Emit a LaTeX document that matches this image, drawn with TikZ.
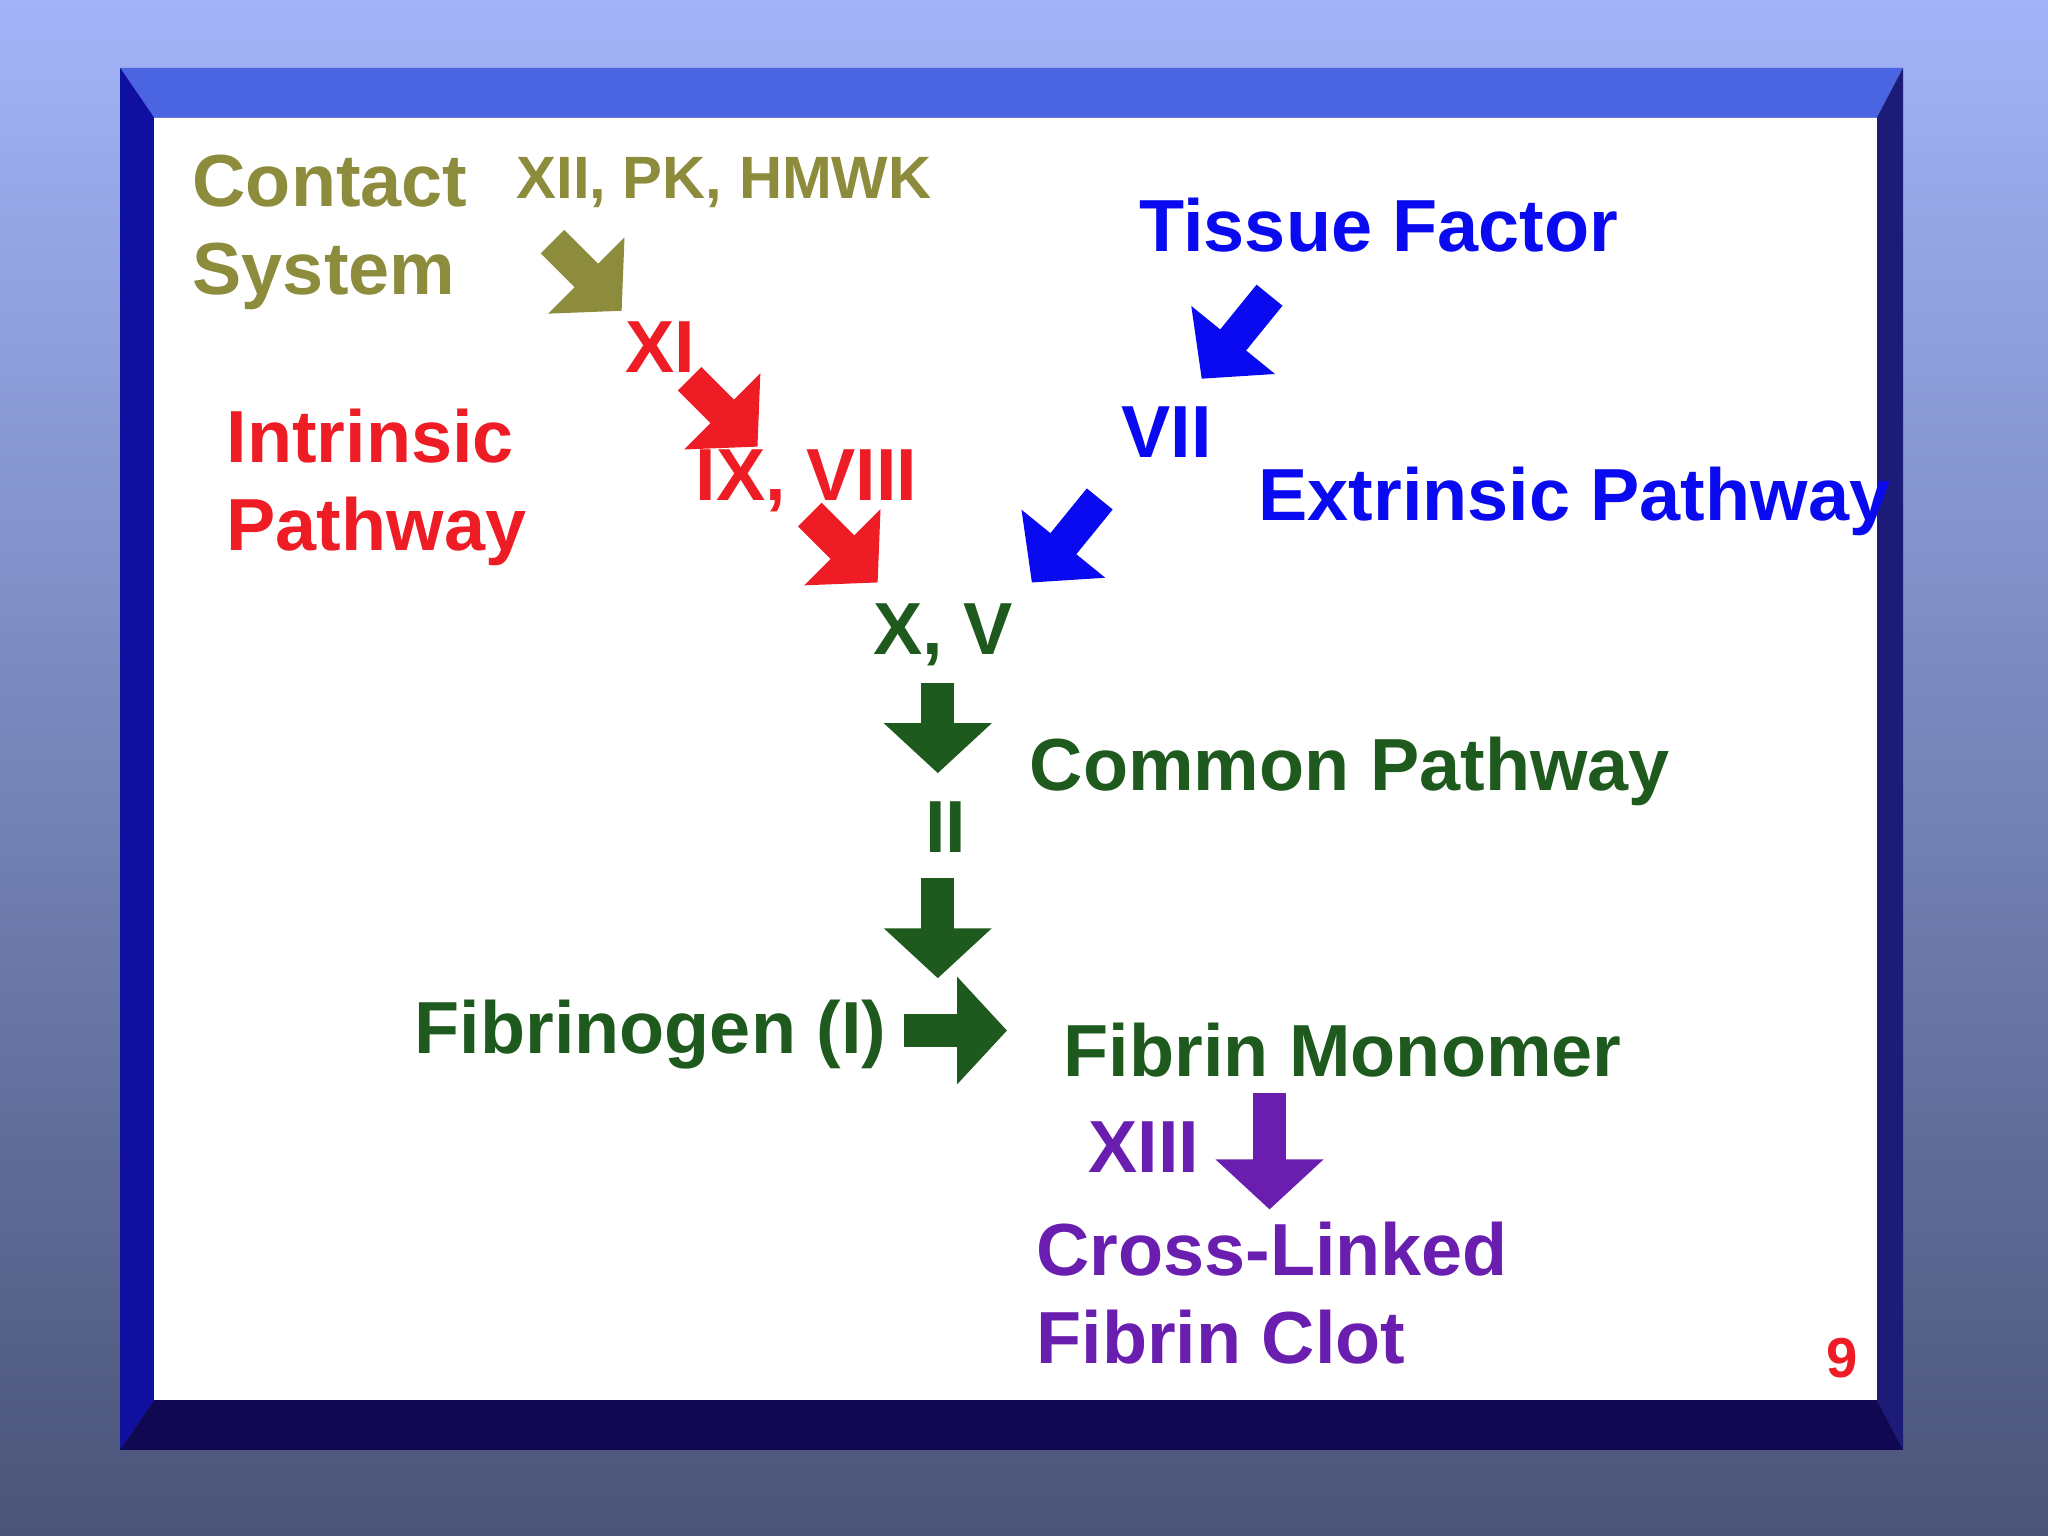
\documentclass[tikz,border=0pt]{standalone}
\usepackage{fontspec}
\setmainfont{Liberation Sans}
\usetikzlibrary{arrows.meta}
\definecolor{olv}{HTML}{8C8C3C}
\definecolor{rd}{HTML}{EE1C24}
\definecolor{bl}{HTML}{0A0AF0}
\definecolor{gr}{HTML}{1E5A1E}
\definecolor{pu}{HTML}{6A1EB0}
\begin{document}
\begin{tikzpicture}[x=0.01306cm,y=-0.01306cm,
  t/.style={font=\bfseries\fontsize{21}{25}\selectfont,anchor=west,align=left,inner sep=0},
  s/.style={font=\bfseries\fontsize{17}{20}\selectfont,anchor=west,inner sep=0},
  ar/.style={line width=9.5pt,-{Triangle[length=0.5cm,width=1.05cm]}}]
\useasboundingbox (0,0) rectangle (1568,1176);
\shade[top color={rgb,255:red,162;green,180;blue,248},bottom color={rgb,255:red,74;green,84;blue,120}] (0,0) rectangle (1568,1176);
\fill[color={rgb,255:red,74;green,100;blue,226}] (92,52)--(1457,52)--(1437,90)--(118,90)--cycle;
\fill[color={rgb,255:red,16;green,16;blue,160}] (92,52)--(118,90)--(118,1072)--(92,1110)--cycle;
\fill[color={rgb,255:red,28;green,28;blue,120}] (1457,52)--(1437,90)--(1437,1072)--(1457,1110)--cycle;
\fill[color={rgb,255:red,16;green,8;blue,80}] (92,1110)--(118,1072)--(1437,1072)--(1457,1110)--cycle;
\fill[white] (118,90) rectangle (1437,1072);
\node[t,olv] (cs) at (147,178) {Contact\\System};
\node[s,olv] (xii) at (395,140) {XII, PK, HMWK};
\node[t,bl] (tf) at (872,172) {Tissue Factor};
\node[t,rd] (xi) at (478,266) {XI};
\node[t,rd] (ip) at (173,373) {Intrinsic\\Pathway};
\node[t,rd] (ix) at (532,368) {IX, VIII};
\node[t,bl] (vii) at (858,331) {VII};
\node[t,bl] (ep) at (963,384) {Extrinsic Pathway};
\node[t,gr] (xv) at (668,486) {X, V};
\node[t,gr] (cp) at (788,591) {Common Pathway};
\node[t,gr] (ii) at (708,633) {II};
\node[t,gr] (fg) at (317,792) {Fibrinogen (I)};
\node[t,gr] (fm) at (814,804) {Fibrin Monomer};
\node[t,pu] (xiii) at (833,878) {XIII};
\node[t,pu] (cl) at (793,990) {Cross-Linked\\Fibrin Clot};
\node[font=\bfseries\fontsize{16}{18}\selectfont,rd,inner sep=0] (n9) at (1410,1040) {9};
\coordinate (a1) at (423,185); \coordinate (a1e) at (476,238);
\coordinate (a2) at (528,290); \coordinate (a2e) at (580,342);
\coordinate (a3) at (620,394); \coordinate (a3e) at (672,446);
\coordinate (b1) at (972,226); \coordinate (b1e) at (920,290);
\coordinate (b2) at (842,382); \coordinate (b2e) at (790,446);
\coordinate (c1) at (718,523); \coordinate (c1e) at (718,592);
\coordinate (c2) at (718,672); \coordinate (c2e) at (718,749);
\coordinate (c3) at (692,789); \coordinate (c3e) at (771,789);
\coordinate (d1) at (972,837); \coordinate (d1e) at (972,926);
\draw[ar,olv] (a1)--(a1e);
\draw[ar,rd] (a2)--(a2e);
\draw[ar,rd] (a3)--(a3e);
\draw[ar,bl] (b1)--(b1e);
\draw[ar,bl] (b2)--(b2e);
\draw[ar,gr] (c1)--(c1e);
\draw[ar,gr] (c2)--(c2e);
\draw[ar,gr] (c3)--(c3e);
\draw[ar,pu] (d1)--(d1e);
\end{tikzpicture}
\end{document}
